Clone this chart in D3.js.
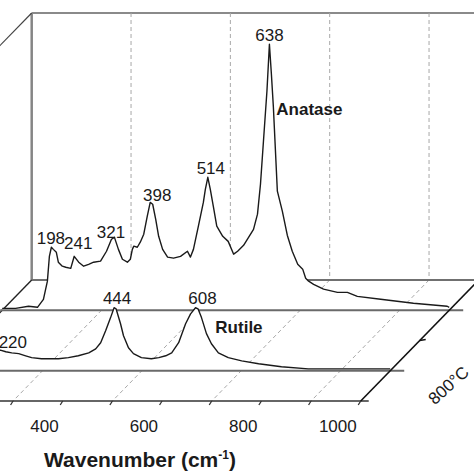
<!DOCTYPE html>
<html><head><meta charset="utf-8">
<script src="https://cdn.jsdelivr.net/npm/d3@7"></script>
<style>
body{margin:0;background:#fff}
svg{display:block}
text{font-family:"Liberation Sans",Arial,Helvetica,sans-serif;fill:#1a1a1a}
</style>
</head><body>
<svg id="chart" width="474" height="474"></svg>
<script>
// ---------------- data ----------------
const seriesNames = ["Anatase", "Rutile"];

const anataseWavenumber = [100,127,153,171,183,191,195,199,203,209,213,221,228,238,245,254,264,274,284,298,
  310,320,326,334,342,352,358,362,365,372,378,385,392,398,403,409,415,423,433,445,
  459,473,479,485,495,505,509,514,519,525,532,544,555,566,574,586,596,606,614,620,
  626,633,638,642,646,654,664,674,684,695,705,711,717,727,747,775,795,815,862,928,996,1000];
const anataseIntensity = [0.7,0.7,1.5,1.1,4.1,10.9,20.2,23.6,22.8,21.7,18.0,16.5,16.1,15.7,20.2,18.0,16.5,17.2,18.0,18.4,
  22.1,26.6,27.3,22.8,19.1,18.0,19.1,22.8,24.0,23.6,25.5,28.5,35.2,40.4,39.7,34.1,27.7,22.8,19.9,19.5,
  20.2,22.1,19.9,22.8,31.5,40.4,45.3,49.8,45.3,39.0,31.5,27.7,25.8,21.0,22.1,24.3,27.3,30.3,36.0,47.2,
  63.3,82.0,99.6,88.4,76.0,44.6,37.1,28.1,22.1,17.2,15.4,12.0,10.9,9.7,7.9,6.7,6.7,5.2,4.1,2.6,1.5,1.1];

const rutileWavenumber = [100,130,160,190,205,215,226,238,252,266,278,298,318,332,352,372,393,407,417,427,
  437,444,448,457,463,473,483,499,519,534,548,560,574,588,598,608,613,620,630,640,
  654,674,701,735,781,835,916,1000];
const rutileIntensity = [1.1,1.9,3.0,5.2,7.1,7.7,7.1,6.7,6.4,5.6,4.9,4.5,4.5,4.5,4.9,5.6,6.7,8.2,10.5,15.0,
  19.9,23.6,23.2,17.6,13.1,8.6,6.4,4.9,4.5,4.9,5.6,6.7,10.5,17.6,21.3,23.6,23.2,19.9,13.9,10.1,
  6.7,4.9,3.7,2.6,1.5,0.7,0.7,0.7];

const xDomain = [100, 1000];
const xMinorTicks = [100,200,300,400,500,600,700,800,900,1000];
const xTickLabels = [400, 600, 800, 1000];
const gridWavenumbers = [300, 500, 700, 900];
const peakSeries = ["Anatase","Anatase","Anatase","Anatase","Anatase","Anatase","Rutile","Rutile","Rutile"];
const peakPositions = [198, 241, 321, 398, 514, 638, 220, 444, 608];
const depthLabel = "800°C";
const xTitle = "Wavenumber (cm";

// ---------------- layout ----------------
const svg = d3.select("#chart");
const floorBackY = 280, depthLen = 121, slant = 0.975;
const xBack = d3.scaleLinear().domain(xDomain).range([31.7, 478.7]);
const zScale = d3.scaleBand().domain(seriesNames).range([0, depthLen]);
const yI = d3.scaleLinear().domain([0, 100]).range([0, 267]);
const zOf = s => zScale(s) + zScale.bandwidth() / 2;
const P = (w, z, v = 0) => [xBack(w) - slant * z, floorBackY + z - yI(v)];

const gridColor = "#a8a8a8";

// back wall
const topY = floorBackY - yI(100);
svg.append("line").attr("x1", xBack(100)).attr("y1", topY).attr("x2", 480).attr("y2", topY)
  .attr("stroke", "#8a8a8a").attr("stroke-width", 2);
gridWavenumbers.forEach(w => {
  svg.append("line").attr("x1", xBack(w)).attr("x2", xBack(w)).attr("y1", topY).attr("y2", floorBackY)
    .attr("stroke", gridColor).attr("stroke-width", 1).attr("stroke-dasharray", "4,3");
  const a = P(w, 0), b = P(w, depthLen);
  svg.append("line").attr("x1", a[0]).attr("y1", a[1]).attr("x2", b[0]).attr("y2", b[1])
    .attr("stroke", gridColor).attr("stroke-width", 1).attr("stroke-dasharray", "4,3");
});
// left wall edge
svg.append("line").attr("x1", xBack(100)).attr("x2", xBack(100)).attr("y1", topY).attr("y2", floorBackY)
  .attr("stroke", "#858585").attr("stroke-width", 2.5);
// side wall top edge
{
  const a = [xBack(100), topY], b = [xBack(100) - slant * depthLen, topY + depthLen];
  svg.append("line").attr("x1", a[0]).attr("y1", a[1]).attr("x2", b[0]).attr("y2", b[1])
    .attr("stroke", "#444").attr("stroke-width", 1.2);
}
// floor back line
svg.append("line").attr("x1", xBack(100)).attr("y1", floorBackY).attr("x2", xBack(1000)).attr("y2", floorBackY)
  .attr("stroke", "#707070").attr("stroke-width", 2);
// floor left edge
{
  const a = P(100, 0), b = P(100, depthLen);
  svg.append("line").attr("x1", a[0]).attr("y1", a[1]).attr("x2", b[0]).attr("y2", b[1])
    .attr("stroke", "#222").attr("stroke-width", 1.4);
}

// series
const seriesData = {
  "Anatase": anataseWavenumber.map((w, i) => [w, anataseIntensity[i]]),
  "Rutile": rutileWavenumber.map((w, i) => [w, rutileIntensity[i]])
};
seriesNames.forEach(s => {
  const z = zOf(s);
  const pts = seriesData[s];
  const fillPts = [P(pts[0][0], z)].concat(pts.map(d => P(d[0], z, d[1]))).concat([P(pts[pts.length - 1][0], z)]);
  svg.append("path").attr("d", d3.line()(fillPts) + "Z").attr("fill", "#fff").attr("stroke", "none");
  const b0 = P(100, z), b1 = P(1000, z);
  svg.append("line").attr("x1", b0[0] - 2).attr("y1", b0[1]).attr("x2", b1[0] + 14).attr("y2", b1[1])
    .attr("stroke", "#6a6a6a").attr("stroke-width", 2);
  svg.append("path").attr("d", d3.line()(pts.map(d => P(d[0], z, d[1]))))
    .attr("fill", "none").attr("stroke", "#1a1a1a").attr("stroke-width", 1.4).attr("stroke-linejoin", "round");
});

// front axis
{
  const a = P(100, depthLen), b = P(1000, depthLen);
  svg.append("line").attr("x1", a[0]).attr("y1", a[1]).attr("x2", b[0] + 8).attr("y2", b[1])
    .attr("stroke", "#333").attr("stroke-width", 1.6);
  xMinorTicks.forEach(w => {
    const p = P(w, depthLen);
    svg.append("line").attr("x1", p[0]).attr("y1", p[1]).attr("x2", p[0] - 2.5).attr("y2", p[1] + 4)
      .attr("stroke", "#333").attr("stroke-width", 1.3);
  });
  xTickLabels.forEach(w => {
    const p = P(w, depthLen);
    svg.append("text").attr("x", p[0] - 4).attr("y", p[1] + 31).attr("text-anchor", "end")
      .attr("font-size", 17).text(w);
  });
  const t = svg.append("text").attr("x", 140).attr("y", 467).attr("text-anchor", "middle")
    .attr("font-size", 21).attr("font-weight", "bold");
  t.append("tspan").text(xTitle);
  t.append("tspan").attr("font-size", 12).attr("dy", -8).text("-1");
  t.append("tspan").attr("dy", 8).text(")");
}

// depth axis
{
  const a = P(1000, 0), b = P(1000, depthLen);
  svg.append("line").attr("x1", a[0]).attr("y1", a[1]).attr("x2", b[0]).attr("y2", b[1])
    .attr("stroke", "#111").attr("stroke-width", 1.6);
  const tz = zScale("Rutile");
  const p = P(1000, tz);
  svg.append("line").attr("x1", p[0]).attr("y1", p[1]).attr("x2", p[0] + 6).attr("y2", p[1] - 1)
    .attr("stroke", "#111").attr("stroke-width", 1.3);
  svg.append("text").attr("transform", `translate(${p[0] + 29},${p[1] + 45}) rotate(-42)`)
    .attr("text-anchor", "middle").attr("dominant-baseline", "central")
    .attr("font-size", 17).text(depthLabel);
}

// peak labels
const labelShift = {198:[0,0],241:[6,-4],321:[-1,4],398:[7,2],514:[3,0],638:[0,0],220:[10,1],444:[3,-1],608:[7,-1]};
peakPositions.forEach((w, i) => {
  const s = peakSeries[i], z = zOf(s);
  const near = seriesData[s].filter(d => Math.abs(d[0] - w) <= 8);
  const vmax = d3.max(near, d => d[1]);
  const p = P(w, z, vmax);
  const sh = labelShift[w];
  svg.append("text").attr("x", p[0] + sh[0]).attr("y", p[1] - 3 + sh[1]).attr("text-anchor", "middle")
    .attr("font-size", 17).text(w);
});

// series names
{
  const pa = P(660, zOf("Anatase"), 0);
  svg.append("text").attr("x", pa[0] - 4).attr("y", 115).attr("font-size", 17).attr("font-weight", "bold").text("Anatase");
  const pr = P(660, zOf("Rutile"), 0);
  svg.append("text").attr("x", pr[0] - 6).attr("y", 333).attr("font-size", 17).attr("font-weight", "bold").text("Rutile");
}
</script>
</body></html>
